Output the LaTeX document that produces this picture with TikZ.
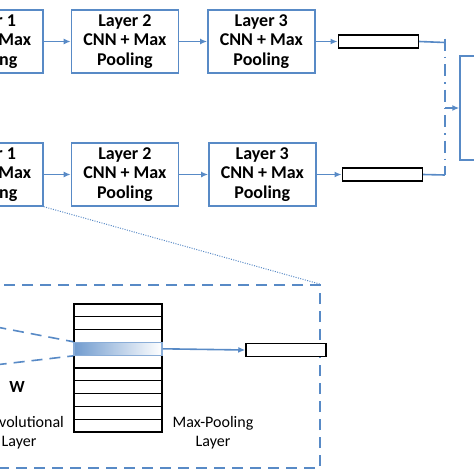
\documentclass[tikz,border=0pt]{standalone}
\usepackage{fontspec}
\setmainfont{Carlito}
\usepackage{xcolor}
\usepackage{tikz}
\usetikzlibrary{arrows.meta}
\usetikzlibrary{positioning}

\definecolor{cnnblue}{RGB}{88,138,198}

\tikzset{
    layer/.style={draw=cnnblue, line width=1.4pt, fill=white, minimum width=107pt,
        minimum height=63pt, align=center, inner sep=0pt,
        font=\fontsize{18}{19.5}\selectfont\bfseries},
    vec/.style={draw=black, line width=1.5pt, fill=white, minimum width=80pt,
        minimum height=13pt, inner sep=0pt},
    cell/.style={draw=black, line width=1.3pt, fill=white, minimum width=88pt,
        minimum height=12.8pt, inner sep=0pt},
    link/.style={cnnblue, line width=1.6pt, -{Latex[length=7pt,width=6pt]}},
    zoombox/.style={draw=cnnblue, line width=1.4pt, dash pattern=on 11pt off 7pt,
        minimum width=340pt, minimum height=183pt, inner sep=0pt},
    lbl/.style={align=center, font=\fontsize{16}{19}\selectfont}
}

\begin{document}
\begin{tikzpicture}[x=1pt, y=-1pt]
    \useasboundingbox (0,0) rectangle (474,474);
    \clip (0,0) rectangle (474,474);

    % top branch
    \node[layer] (t1) at (-10.5,41.5) {Layer 1\\CNN + Max\\Pooling};
    \node[layer, right=27pt of t1] (t2) {Layer 2\\CNN + Max\\Pooling};
    \node[layer, right=28pt of t2] (t3) {Layer 3\\CNN + Max\\Pooling};
    \node[vec, right=22pt of t3] (tv) {};

    % bottom branch
    \node[layer] (b1) at (-10.5,174.5) {Layer 1\\CNN + Max\\Pooling};
    \node[layer, right=27pt of b1] (b2) {Layer 2\\CNN + Max\\Pooling};
    \node[layer, right=29pt of b2] (b3) {Layer 3\\CNN + Max\\Pooling};
    \node[vec, right=25pt of b3] (bv) {};

    % merge
    \node[draw=cnnblue, line width=1.4pt, minimum width=60pt, minimum height=104pt] (out) at (490,108) {};
    \coordinate (j1) at (445,42.5);
    \coordinate (j2) at (445,175);
    \coordinate (jm) at (445,108);

    \draw[link] (t1) -- (t2);
    \draw[link] (t2) -- (t3);
    \draw[link] (t3) -- (tv);
    \draw[link] (b1) -- (b2);
    \draw[link] (b2) -- (b3);
    \draw[link] (b3) -- (bv);
    \draw[cnnblue, line width=1.6pt] (tv.east) -- (j1);
    \draw[cnnblue, line width=1.6pt] (bv.east) -- (j2);
    \draw[cnnblue, line width=1.6pt, dash pattern=on 12pt off 6pt on 1.5pt off 6pt] ([yshift=4pt]j1) -- (j2);
    \draw[link] (jm) -- (out);

    % zoomed view of layer 1
    \node[zoombox] (zoom) at (150,376.5) {};
    \draw[cnnblue, line width=1pt, dash pattern=on 1pt off 1.4pt] (b1.south east) -- (zoom.north east);

    \foreach \i in {0,...,9}
        \node[cell] (c\i) at (118,310.4+12.8*\i) {};
    \node[cell, draw=cnnblue!70, left color=cnnblue!85, right color=white] (hl) at (c3) {};

    \coordinate (cv1) at (-40,320);
    \coordinate (cv2) at (-40,369);
    \draw[cnnblue, line width=1.6pt, dash pattern=on 11pt off 7pt] (cv1) -- (hl.north west);
    \draw[cnnblue, line width=1.6pt, dash pattern=on 11pt off 7pt] (cv2) -- (hl.south west);

    \node[vec] (pv) at (286,350) {};
    \draw[link] (hl.east) -- (pv.west);

    \node[lbl, font=\fontsize{17}{19}\selectfont\bfseries] (w) at (17,387) {W};
    \node[lbl] (conv) at (19,433) {Convolutional\\Layer};
    \node[lbl] (pool) at (213,433) {Max-Pooling\\Layer};
\end{tikzpicture}
\end{document}
